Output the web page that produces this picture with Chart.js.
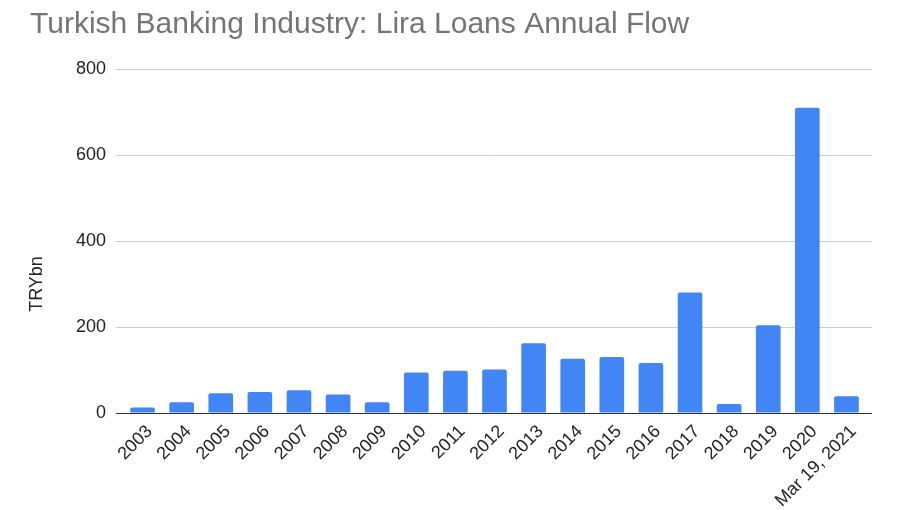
<!DOCTYPE html>
<html>
<head>
<meta charset="utf-8">
<script src="https://cdn.jsdelivr.net/npm/chart.js@4/dist/chart.umd.min.js"></script>
<style>
  html, body { margin: 0; padding: 0; background: #ffffff; }
  #wrap { width: 900px; height: 510px; }
</style>
</head>
<body>
<div id="wrap"><canvas id="c" width="900" height="510"></canvas></div>
<script>
const chartTitle = 'Turkish Banking Industry: Lira Loans Annual Flow';
const yAxisTitle = 'TRYbn';
const categories = ['2003', '2004', '2005', '2006', '2007', '2008', '2009', '2010', '2011', '2012',
  '2013', '2014', '2015', '2016', '2017', '2018', '2019', '2020', 'Mar 19, 2021'];
const loanFlow = [13, 25, 46, 49, 53, 43, 25, 94, 98, 101, 162, 126, 130, 116, 280, 21, 204, 710, 39];
const yTicks = [0, 200, 400, 600, 800];

const FONT = "'Liberation Sans', Arial, sans-serif";
const gridColor = (ctx) => (ctx.tick && ctx.tick.value === 0) ? '#333333' : '#cccccc';

const yTitlePlugin = {
  id: 'yTitle',
  afterDraw(chart) {
    const ctx = chart.ctx;
    ctx.save();
    ctx.translate(37.5, 284);
    ctx.rotate(-Math.PI / 2);
    ctx.font = '18px ' + FONT;
    ctx.fillStyle = '#222222';
    ctx.textAlign = 'center';
    ctx.textBaseline = 'middle';
    ctx.fillText(yAxisTitle, 0, 0);
    ctx.restore();
  }
};

new Chart(document.getElementById('c'), {
  type: 'bar',
  data: {
    labels: categories,
    datasets: [{
      label: yAxisTitle,
      data: loanFlow,
      backgroundColor: '#4285F4',
      borderWidth: 0,
      borderRadius: { topLeft: 2, topRight: 2, bottomLeft: 0, bottomRight: 0 },
      borderSkipped: 'bottom',
      categoryPercentage: 1.0,
      barPercentage: 0.63
    }]
  },
  options: {
    responsive: false,
    animation: false,
    devicePixelRatio: 1,
    layout: { padding: { left: 30, right: 28, top: 0, bottom: 0 } },
    plugins: {
      legend: { display: false },
      tooltip: { enabled: false },
      title: {
        display: true,
        text: chartTitle,
        align: 'start',
        color: '#757575',
        font: { family: FONT, size: 30, weight: 'normal' },
        padding: { top: 7, bottom: 26 }
      }
    },
    scales: {
      x: {
        afterFit: (scale) => { scale.height = 97; },
        grid: { display: false },
        border: { display: false },
        ticks: {
          color: '#222222',
          font: { family: FONT, size: 18 },
          maxRotation: 45,
          minRotation: 45,
          autoSkip: false,
          padding: 0,
          labelOffset: 7
        }
      },
      y: {
        position: 'left',
        min: 0,
        max: 800,
        afterBuildTicks: (scale) => { scale.ticks = yTicks.map(v => ({ value: v })); },
        afterFit: (scale) => { scale.width = 93; },
        border: { display: false },
        grid: { color: gridColor, lineWidth: 1, drawTicks: true, tickLength: 7 },
        ticks: {
          color: '#222222',
          font: { family: FONT, size: 18 },
          padding: 10
        }
      },
      yRight: {
        position: 'right',
        min: 0,
        max: 800,
        afterBuildTicks: (scale) => { scale.ticks = yTicks.map(v => ({ value: v })); },
        afterFit: (scale) => { scale.width = 6; },
        border: { display: false },
        grid: { color: gridColor, drawOnChartArea: false, drawTicks: true, tickLength: 6 },
        ticks: { display: false }
      }
    }
  },
  plugins: [yTitlePlugin]
});
</script>
</body>
</html>
